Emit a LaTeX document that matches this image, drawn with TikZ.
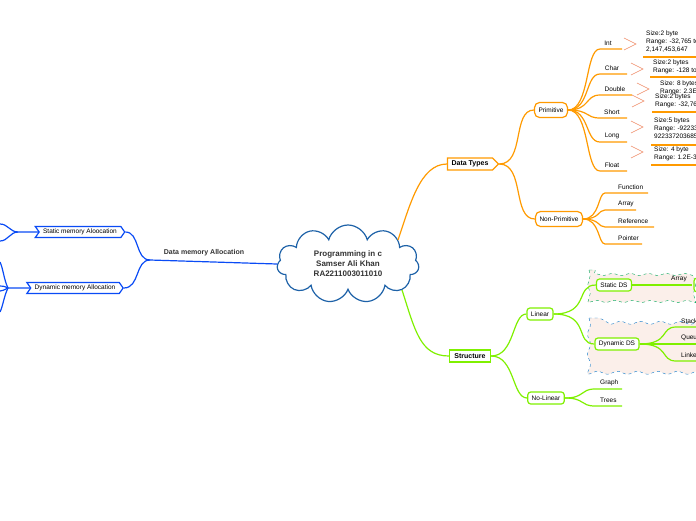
\documentclass[tikz,border=0pt]{standalone}
\usepackage{fontspec}
\setmainfont{Liberation Sans}
\usetikzlibrary{shapes.symbols,shapes.geometric,decorations.pathmorphing}
\definecolor{org}{HTML}{FF9A00}
\definecolor{grn}{HTML}{7FF000}
\definecolor{blu}{HTML}{0A4BF5}
\definecolor{cld}{HTML}{1E62A8}
\definecolor{sal}{HTML}{EE8A66}
\definecolor{pnk}{HTML}{FBEFEA}
\tikzset{
 txt/.style={font=\fontsize{6.5}{7.8}\selectfont,inner sep=1pt,align=left},
 btxt/.style={font=\fontsize{7}{8}\selectfont\bfseries,inner sep=1pt},
 obox/.style={txt,draw=org,line width=1.2pt,rounded corners=5pt,minimum height=15pt,inner xsep=4pt,fill=white},
 gbox/.style={txt,draw=grn,line width=1.2pt,rounded corners=3pt,minimum height=12pt,inner xsep=4pt,fill=white},
 bbox/.style={txt,draw=blu,line width=1.2pt,minimum height=11pt,inner xsep=4pt,fill=white},
 ol/.style={draw=org,line width=1.2pt},
 gl/.style={draw=grn,line width=1.2pt},
 bl/.style={draw=blu,line width=1.2pt},
 chev/.style={draw=sal,line width=0.6pt},
}
\begin{document}
\begin{tikzpicture}[x=1pt,y=-1pt]
\useasboundingbox (0,0) rectangle (696,520);
% dashed clouds
\draw[dashed,draw=teal!70!green,fill=pnk,decorate,decoration={snake,amplitude=1.2pt,segment length=18pt}] (589,270) rectangle (700,297);
\draw[dashed,draw=cyan!60!blue,fill=pnk,decorate,decoration={snake,amplitude=1.5pt,segment length=20pt}] (589,318) rectangle (700,368);
% center
\node[cloud,cloud puffs=11,aspect=1.9,draw=cld,line width=1.2pt,fill=white,minimum width=142pt,minimum height=78pt,font=\fontsize{8}{10}\selectfont\bfseries,align=center,text=black!80] (c) at (348,264) {Programming in c\\Samser Ali Khan\\RA2211003011010};
% Data types
\node[btxt,draw=org,line width=1.2pt,fill=white,signal,signal to=east,minimum height=12pt,inner xsep=4pt] (dt) at (470,164) {Data Types};
\node[btxt,draw=grn,line width=1.2pt,fill=white,minimum height=12pt,inner xsep=5pt] (st) at (470,356) {Structure};
\draw[ol] (398,240) .. controls (410,205) and (420,164) .. (dt.west);
\draw[gl] (402,290) .. controls (415,330) and (420,356) .. (st.west);
\node[obox] (pr) at (551,110) {Primitive};
\node[obox] (np) at (559,219) {Non-Primitive};
\draw[ol] (dt.east) .. controls (525,164) and (512,110) .. (pr.west);
\draw[ol] (dt.east) .. controls (525,164) and (512,219) .. (np.west);
% primitive leaves
\foreach \n/\t/\x/\y/\a/\b in {int/Int/608/43/600/622, char/Char/612/68/600/627, dbl/Double/615/89/600/632, sht/Short/612/112/600/627, lng/Long/612/136/600/627, flt/Float/612/165/600/627}{
  \node[txt] (\n) at (\x,\y) {\t};
  \coordinate (\n a) at (\a,\y+6);
  \coordinate (\n b) at (\b,\y+6);
  \draw[ol] (pr.east) .. controls (590,110) and (585,\y+6) .. (\n a) -- (\n b);
}
\foreach \x/\y in {624/44,631/69,637/89,632/101,631/127,631/152}{
  \draw[chev] (\x,\y-6) -- (\x+12,\y) -- (\x,\y+6);
}
\node[txt,anchor=north west] (d1) at (645,30) {Size:2 byte\\Range: -32,765 to\\2,147,453,647};
\draw[ol] (643,57) -- (696,57);
\node[txt,anchor=north west] (d2) at (652,59) {Size:2 bytes\\Range: -128 to 127};
\draw[ol] (650,77) -- (696,77);
\node[txt,anchor=north west] (d3) at (659,80) {Size: 8 bytes\\Range: 2.3E-308 to 1.7E+308};
\node[txt,anchor=north west] (d4) at (654,93) {Size:2 bytes\\Range: -32,768 to 32,767};
\draw[ol] (652,112) -- (696,112);
\node[txt,anchor=north west] (d5) at (653,117) {Size:5 bytes\\Range: -9223372036854775808 to\\9223372036854775807};
\draw[ol] (651,145) -- (696,145);
\node[txt,anchor=north west] (d6) at (653,146) {Size: 4 byte\\Range: 1.2E-38 to 3.4E+38};
\draw[ol] (651,165) -- (696,165);
% non primitive leaves
\foreach \n/\t/\y/\b in {fn/Function/187/648, ar/Array/204/636, rf/Reference/221/654, pt/Pointer/238/642}{
  \node[txt,anchor=west] (\n) at (617,\y) {\t};
  \coordinate (\n a) at (605,\y+6);
  \draw[ol] (np.east) .. controls (600,219) and (598,\y+6) .. (\n a) -- (\b,\y+6);
}
% structure
\node[gbox] (li) at (540,314) {Linear};
\node[gbox] (nl) at (546,398) {No-Linear};
\draw[gl] (st.east) .. controls (515,356) and (512,314) .. (li.west);
\draw[gl] (st.east) .. controls (515,356) and (512,398) .. (nl.west);
\node[gbox] (sd) at (614,285) {Static DS};
\node[gbox] (dd) at (617,344) {Dynamic DS};
\draw[gl] (li.east) .. controls (590,314) and (575,285) .. (sd.west);
\draw[gl] (li.east) .. controls (590,314) and (575,344) .. (dd.west);
\node[txt] (sa) at (679,279) {Array};
\draw[gl] (sd.east) -- (692,285);
\draw[grn,line width=1.2pt,rounded corners=3pt] (694,278) rectangle (705,292);
\foreach \n/\t/\y in {sk/Stack/321, qu/Queue/338, lk/Linked/355}{
  \node[txt,anchor=west] (\n) at (680,\y) {\t};
  \draw[gl] (dd.east) .. controls (670,344) and (660,\y+6) .. (676,\y+6) -- (700,\y+6);
}
\foreach \n/\t/\y in {gr/Graph/383, tr/Trees/400}{
  \node[txt,anchor=west] (\n) at (599,\y) {\t};
  \draw[gl] (nl.east) .. controls (585,398) and (580,\y+6) .. (595,\y+6) -- (622,\y+6);
}
% left
\node[btxt,text=black!80] (dm) at (204,253) {Data memory Allocation};
\draw[bl] (c.west) -- (150,260);
\node[bbox,signal,signal from=west,signal pointer angle=110] (sm) at (80,232) {Static memory Aloocation};
\node[bbox,signal,signal from=west,signal pointer angle=110] (dy) at (75,288) {Dynamic memory Allocation};
\draw[bl] (150,260) .. controls (135,260) and (140,232) .. (sm.east);
\draw[bl] (150,260) .. controls (135,260) and (140,288) .. (dy.east);
\draw[bl] (sm.west) -- (18,232) .. controls (10,232) and (8,224) .. (0,224);
\draw[bl] (18,232) .. controls (10,232) and (8,241) .. (0,241);
\draw[bl] (dy.west) -- (8,288) .. controls (4,280) and (3,268) .. (0,262);
\draw[bl] (8,288) .. controls (4,286) and (2,286) .. (0,286);
\draw[bl] (8,288) .. controls (4,290) and (2,291) .. (0,291);
\draw[bl] (8,288) .. controls (4,296) and (3,306) .. (0,312);
\end{tikzpicture}
\end{document}
